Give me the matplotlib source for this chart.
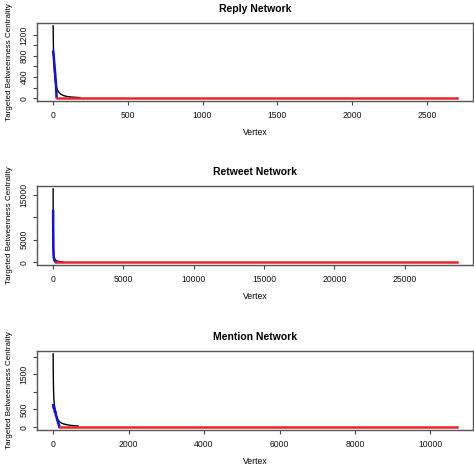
import matplotlib
matplotlib.use("Agg")
import matplotlib.pyplot as plt

plt.rcParams['font.family'] = ['Liberation Sans', 'DejaVu Sans']

titles = ["Reply Network", "Retweet Network", "Mention Network"]

# black: full betweenness curve (sorted)
reply_black_x = [1, 2, 3, 4, 6, 8, 10, 13, 16, 20, 25, 30, 40, 50, 65, 80, 100, 125, 150, 180]
reply_black_y = [1370, 1150, 950, 850, 700, 580, 480, 380, 300, 240, 190, 150, 110, 80, 55, 40, 28, 20, 15, 10]
reply_blue_x = [1, 5, 10, 15, 20, 24]
reply_blue_y = [880, 780, 620, 450, 260, 20]
reply_red_x = [25, 2700]
reply_red_y = [0, 0]

retweet_black_x = [1, 2, 5, 10, 20, 40, 60, 100, 150, 200, 300, 400, 500, 600, 700]
retweet_black_y = [16400, 12000, 6000, 3500, 2000, 1500, 1200, 800, 500, 350, 220, 150, 100, 70, 50]
retweet_blue_x = [1, 5, 10, 20, 40, 100, 200]
retweet_blue_y = [11400, 9000, 6000, 3000, 1100, 300, 0]
retweet_red_x = [200, 28700]
retweet_red_y = [0, 0]

mention_black_x = [1, 3, 6, 10, 20, 40, 70, 100, 130, 180, 250, 350, 450, 550, 660]
mention_black_y = [2080, 1700, 1400, 1100, 800, 550, 380, 280, 200, 140, 100, 70, 50, 40, 30]
mention_blue_x = [1, 15, 30, 45, 60, 75, 90, 105, 120, 135, 150, 170]
mention_blue_y = [620, 540, 560, 430, 450, 330, 300, 210, 190, 100, 80, 0]
mention_red_x = [170, 10700]
mention_red_y = [0, 0]

x_ticks = [list(range(0, 2501, 500)), list(range(0, 25001, 5000)), list(range(0, 10001, 2000))]
y_ticks = [[0, 200, 400, 600, 800, 1000, 1200],
           [0, 5000, 10000, 15000],
           [0, 500, 1000, 1500, 2000]]
y_ticklabels = [["0", "", "400", "", "800", "", "1200"],
                ["0", "5000", "", "15000"],
                ["0", "500", "", "1500", ""]]

series = [
    (reply_black_x, reply_black_y, reply_blue_x, reply_blue_y, reply_red_x, reply_red_y),
    (retweet_black_x, retweet_black_y, retweet_blue_x, retweet_blue_y, retweet_red_x, retweet_red_y),
    (mention_black_x, mention_black_y, mention_blue_x, mention_blue_y, mention_red_x, mention_red_y),
]

W, H = 474, 467
fig = plt.figure(figsize=(W / 100, H / 100), dpi=100)

# axes boxes in pixels: (top, bottom)
boxes = [(23, 101), (186, 265), (351, 430)]
left_px, right_px = 37, 473

for i, (top, bot) in enumerate(boxes):
    ax = fig.add_axes([left_px / W, 1 - bot / H, (right_px - left_px) / W, (bot - top) / H])
    bx, by, ux, uy, rx, ry = series[i]
    ax.plot(bx, by, color='black', lw=1.0, zorder=2)
    ax.plot(ux, uy, color='#1010e0', lw=1.8, zorder=3)
    ax.plot(rx, ry, color='#e8262a', lw=1.8, zorder=4)
    ax.margins(x=0.04, y=0.04)

    ax.set_xticks(x_ticks[i])
    ax.set_xticklabels([str(t) for t in x_ticks[i]])
    ax.set_yticks(y_ticks[i])
    ax.set_yticklabels(y_ticklabels[i], rotation=90, va='center')
    ax.tick_params(direction='out', length=3, width=0.8, color='#444444',
                   labelsize=6.2, labelcolor='#111111')
    ax.tick_params(axis='x', pad=4)
    ax.tick_params(axis='y', pad=3)
    for sp in ax.spines.values():
        sp.set_color('#555555')
        sp.set_linewidth(1.0)

    ax.set_title(titles[i], fontsize=7.5, fontweight='bold', pad=8)
    ax.set_xlabel("Vertex", fontsize=6.2, labelpad=6)
    ax.set_ylabel("Targeted Betweenness Centrality", fontsize=5.8, labelpad=5)

fig.savefig("out.png", dpi=100)
